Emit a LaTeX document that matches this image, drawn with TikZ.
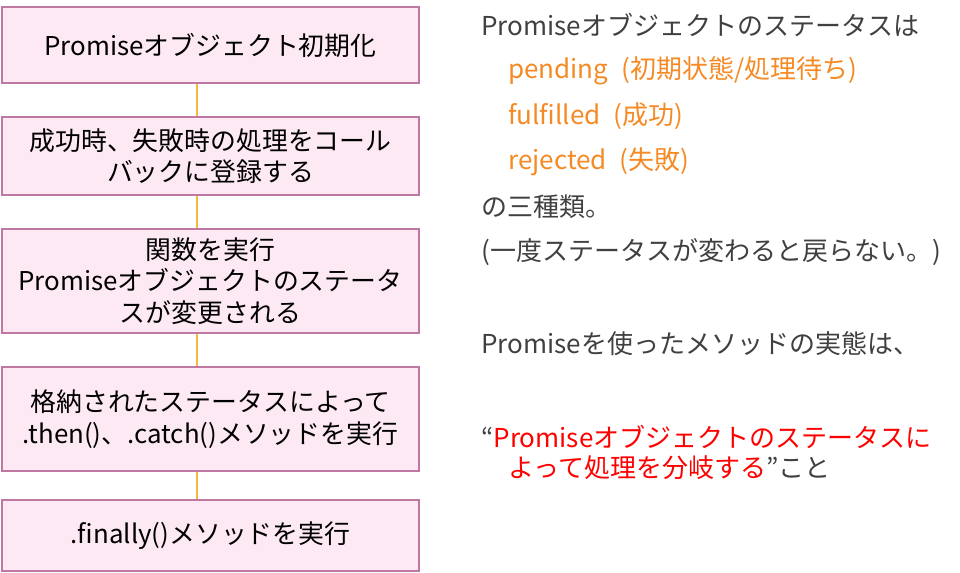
\documentclass[tikz,border=0pt]{standalone}
\usepackage{fontspec}
\setmainfont{Noto Sans CJK JP}
\usepackage{tikz}
\usetikzlibrary{positioning}

\definecolor{boxfill}{HTML}{FDE9F4}
\definecolor{boxline}{HTML}{BF78A2}
\definecolor{linkline}{HTML}{F5B63C}
\definecolor{textgray}{HTML}{404040}
\definecolor{stateorange}{HTML}{F58A25}
\definecolor{keyred}{HTML}{FF0000}

\tikzset{
    flowbox/.style={draw=boxline, line width=1.5pt, fill=boxfill, align=center,
        minimum width=312.75pt, inner sep=0pt,
        font=\fontsize{19.4}{23.5}\selectfont},
    link/.style={draw=linkline, line width=1.2pt},
    note/.style={anchor=west, inner sep=0pt, text=textgray,
        font=\fontsize{19.5}{23}\selectfont}
}

\begin{document}
\begin{tikzpicture}[x=0.75pt, y=-0.75pt]
    \useasboundingbox (0,0) rectangle (960,572);

    % flow on the left
    \node[flowbox, minimum height=57pt] (init) at (210.5,45) {Promiseオブジェクト初期化};
    \node[flowbox, minimum height=58.5pt] (reg) at (210.5,156) {成功時、失敗時の処理をコール\\バックに登録する};
    \node[flowbox, minimum height=78pt] (exec) at (210.5,281) {関数を実行\\Promiseオブジェクトのステータ\\スが変更される};
    \node[flowbox, minimum height=78pt] (then) at (210.5,419) {格納されたステータスによって\\.then()、.catch()メソッドを実行};
    \node[flowbox, minimum height=53pt] (fin) at (210.5,535.5) {.finally()メソッドを実行};

    \coordinate (spine) at (197,0);
    \draw[link] (init.south -| spine) -- (reg.north -| spine);
    \draw[link] (reg.south -| spine) -- (exec.north -| spine);
    \draw[link] (exec.south -| spine) -- (then.north -| spine);
    \draw[link] (then.south -| spine) -- (fin.north -| spine);

    % notes on the right
    \node[note] (status) at (481,25) {Promiseオブジェクトのステータスは};
    \node[note, text=stateorange] (pending) at (508,71) {pending\hspace{0.5em}(初期状態/処理待ち)};
    \node[note, text=stateorange] (fulfilled) at (508,116) {fulfilled\hspace{0.5em}(成功)};
    \node[note, text=stateorange] (rejected) at (508,162) {rejected\hspace{0.5em}(失敗)};
    \node[note] (kinds) at (481,207) {の三種類。};
    \node[note] (once) at (481,252) {(一度ステータスが変わると戻らない。)};

    \node[note] (method) at (481,344) {Promiseを使ったメソッドの実態は、};
    \node[note] (quote1) at (481,437) {“\textcolor{keyred}{Promiseオブジェクトのステータスに}};
    \node[note] (quote2) at (508,468) {\textcolor{keyred}{よって処理を分岐する}”こと};
\end{tikzpicture}
\end{document}
